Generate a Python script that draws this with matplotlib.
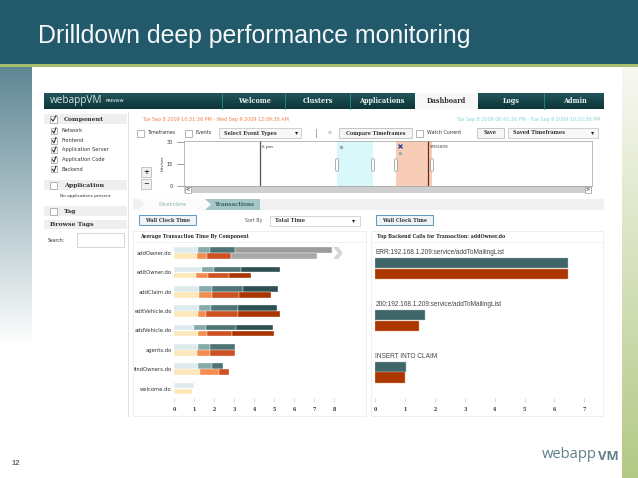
import numpy as np
import matplotlib
matplotlib.use("Agg")
import matplotlib.pyplot as plt
from matplotlib.colors import LinearSegmentedColormap
from matplotlib.patches import Rectangle, Polygon

# ---- data ----
transactions = ["addOwner.do", "editOwner.do", "addClaim.do", "editVehicle.do",
                "addVehicle.do", "agents.do", "findOwners.do", "welcome.do"]
wall_network = [1.20, 1.37, 1.23, 1.23, 1.00, 1.20, 1.20, 1.00]
wall_frontend = [0.58, 0.61, 0.65, 0.60, 0.60, 0.58, 0.67, 0.0]
wall_server = [1.27, 1.34, 1.54, 1.34, 1.50, 1.27, 0.56, 0.0]
wall_code = [4.85, 1.96, 1.78, 1.98, 1.82, 0.0, 0.0, 0.0]
cpu_network = [1.15, 1.08, 1.25, 1.20, 1.17, 1.15, 1.28, 0.90]
cpu_frontend = [0.50, 0.59, 0.63, 0.40, 0.45, 0.62, 0.94, 0.0]
cpu_server = [1.17, 1.08, 1.37, 1.57, 1.28, 1.28, 0.53, 0.0]
cpu_code = [4.33, 1.07, 1.57, 2.10, 2.08, 0.0, 0.0, 0.0]
left_ticks = [0, 1, 2, 3, 4, 5, 6, 7, 8]

backend_calls = ["ERR:192.168.1.209:service/addToMailingList",
                 "200:192.168.1.209:service/addToMailingList",
                 "INSERT INTO CLAIM"]
backend_wall = [6.44, 1.67, 1.02]
backend_cpu = [6.44, 1.46, 0.98]
right_ticks = [0, 1, 2, 3, 4, 5, 6, 7]

timeline_ticks = [0, 15, 30]
timeline_marks = [18.0, 24.0]
timeline_mark_labels = ["6 pm", "9/9/2009"]
timeframe_a = [20.75, 22.04]
timeframe_b = [22.87, 24.16]

tabs = ["Welcome", "Clusters", "Applications", "Dashboard", "Logs", "Admin"]
components = ["Network", "Frontend", "Application Server", "Application Code", "Backend"]

W, H = 638, 478
fig = plt.figure(figsize=(W / 100, H / 100), dpi=100, facecolor="white")
SANS = "DejaVu Sans"
SERIF = "DejaVu Serif"
ARIAL = "Liberation Sans"

ov = fig.add_axes([0, 0, 1, 1], zorder=0)
ov.set_axis_off()


def vgrad(x0, x1, y0, y1, c0, c1, z=1):
    cm = LinearSegmentedColormap.from_list("g", [c0, c1])
    ov.imshow(np.linspace(0, 1, 256)[:, None], extent=(x0, x1, y1, y0), cmap=cm,
              aspect="auto", zorder=z, interpolation="bilinear")


def rect(x0, y0, x1, y1, fc="white", ec="none", lw=0.6, z=2):
    ov.add_patch(Rectangle((x0, y0), x1 - x0, y1 - y0, fc=fc, ec=ec, lw=lw, zorder=z))


def txt(x, y, s, size=4, color="#333333", family=SANS, weight="normal", ha="left", rot=0, z=5):
    ov.text(x, y, s, fontsize=size, color=color, family=family, weight=weight,
            ha=ha, va="center", rotation=rot, zorder=z)


def checkbox(x, y, s=7, checked=False):
    rect(x, y - s / 2, x + s, y + s / 2, fc="white", ec="#a8a8a8", lw=0.6, z=4)
    if checked:
        ov.plot([x + 1.5, x + 3, x + s - 1], [y, y + 2.2, y - 3.2], color="#333333", lw=0.8, zorder=5)


def button(x0, y0, x1, y1, label, size=3.5, ec="#c4c4c4", fc="#f6f6f6"):
    rect(x0, y0, x1, y1, fc=fc, ec=ec, lw=0.7, z=3)
    txt((x0 + x1) / 2, (y0 + y1) / 2, label, size=size, family=SERIF, weight="bold", ha="center", color="#333333")


# ---- slide frame ----
rect(0, 0, W, 63.5, fc="#235a6b", z=1)
vgrad(0, 32, 67, 345, "#5f8794", "#ffffff")
vgrad(622, W, 67, H, "#f8f8f2", "#b3c986")
rect(0, 63.5, W, 67, fc="#a5bf70", z=3)
txt(38.5, 35.5, "Drilldown deep performance monitoring", size=17.9, color="#f4f8f8", family=ARIAL)
txt(12, 463.5, "12", size=5.6, color="#5e7078", family=ARIAL, weight="bold")
txt(597, 455, "webapp", size=10.6, color="#5f7f88", family="Open Sans", ha="right")
txt(598, 456, "VM", size=9.4, color="#5f7f88", family="Open Sans", weight="bold", ha="left")

# ---- application header ----
vgrad(44, 604, 93, 109, "#22565c", "#0c3436", z=2)
rect(415, 93, 478, 109, fc="#f8f8f8", z=3)
tab_centers = [255, 318, 382, 446, 511, 575]
for name, cx in zip(tabs, tab_centers):
    col = "#333333" if name == "Dashboard" else "#e8f0f0"
    txt(cx, 101, name, size=4.7, color=col, family=SERIF, weight="bold", ha="center")
for sx in [222, 285, 350, 544]:
    ov.plot([sx, sx], [93, 109], color="#2a8a8a", lw=0.6, zorder=4)
txt(49.5, 100, "webappVM", size=7.2, color="#d4e2e2", family="Open Sans")
txt(105.5, 101, "PREVIEW", size=2.6, color="#b8cccc", weight="bold")

# ---- sidebar ----
for y0, y1 in [(114, 124), (180, 190), (206, 216), (220, 229)]:
    rect(44, y0, 127, y1, fc="#efefef")
ov.plot([128, 128], [112, 416], color="#e2e2e2", lw=0.7, zorder=3)
checkbox(50, 119, s=7, checked=True)
txt(64, 119, "Component", size=4.5, color="#333333", family=SERIF, weight="bold")
for name, y in zip(components, [131, 140.7, 150, 159.7, 169.3]):
    checkbox(51, y, s=6, checked=True)
    txt(61.5, y, name, size=3.6, color="#333333")
checkbox(50, 185, s=7)
txt(64, 185, "Application", size=4.5, color="#333333", family=SERIF, weight="bold")
txt(85, 196, "No applications present", size=3.1, ha="center")
checkbox(50, 211, s=7)
txt(64, 211, "Tag", size=4.5, color="#333333", family=SERIF, weight="bold")
txt(50.5, 224.5, "Browse Tags", size=4.5, color="#333333", family=SERIF, weight="bold")
txt(48, 240, "Search:", size=3.3)
rect(77, 233, 124, 247, fc="white", ec="#cfcfcf", lw=0.6)

# ---- date range lines and controls ----
txt(142, 119, "Tue Sep 8 2009 10:31:36 PM - Wed Sep 9 2009 12:09:36 AM", size=3.55, color="#f0814e")
txt(600, 119, "Tue Sep 8 2009 06:45:36 PM - Tue Sep 8 2009 10:03:36 PM", size=3.55, color="#86d6d6", ha="right")
checkbox(137, 133)
txt(148, 133, "Timeframes", size=3.4)
checkbox(185, 133)
txt(196, 133, "Events", size=3.4)
rect(219, 128, 301, 138, fc="#f8f8f8", ec="#c8c8c8")
txt(224, 133, "Select Event Types", size=3.6, family=SERIF, weight="bold")
txt(297, 133, "\u25be", size=4.5, ha="center", color="#222222")
ov.plot([316, 316], [129, 137], color="#999999", lw=0.6, zorder=3)
txt(330, 133, "\u26ad", size=5, ha="center", color="#b8b8b8")
button(339, 128, 412, 138, "Compare Timeframes")
checkbox(416, 133)
txt(427, 132.5, "Watch Current", size=3.4)
button(477, 128, 504, 138, "Save")
rect(508, 128, 598, 138, fc="#f8f8f8", ec="#c8c8c8")
txt(513, 133, "Saved Timeframes", size=3.6, family=SERIF, weight="bold")
txt(593, 133, "\u25be", size=4.5, ha="center", color="#222222")

# zoom buttons and scrollbar
for y, s in [(172, "+"), (184, "\u2212")]:
    rect(141, y - 5, 151, y + 5, fc="#f0f0f0", ec="#b0b0b0", lw=0.5)
    txt(146, y, s, size=5, ha="center", weight="bold", color="#223344")
rect(184, 186, 592, 192.5, fc="#cfcfcf")
rect(185, 186.5, 191, 192.5, fc="white", ec="#888888", lw=0.4, z=3)
rect(585, 186.5, 591, 192.5, fc="white", ec="#888888", lw=0.4, z=3)
txt(188, 189.5, "<", size=3.6, ha="center", weight="bold")
txt(588, 189.5, ">", size=3.6, ha="center", weight="bold")

# ---- sub tabs ----
rect(133, 199, 604, 210, fc="#f1f1f1")
ov.add_patch(Polygon([(139, 199), (205, 199), (211, 204.5), (205, 210), (139, 210), (144, 204.5)],
                     fc="#fbfbfb", ec="none", zorder=3))
ov.add_patch(Polygon([(205, 199), (260, 199), (260, 210), (205, 210), (211, 204.5)],
                     fc="#a3c6c6", ec="none", zorder=3))
txt(173, 204.5, "Overview", size=4, family=SERIF, color="#afc6c6", ha="center", weight="bold")
txt(235, 204.5, "Transactions", size=4, family=SERIF, color="#3e5f60", ha="center", weight="bold")

# ---- buttons above the charts ----
button(139, 215, 196, 225, "Wall Clock Time", ec="#5a9ac0", fc="#eef3f6")
txt(254, 220.5, "Sort By", size=3.4, ha="center", color="#555555")
rect(270, 216, 360, 226, fc="white", ec="#cfcfcf")
txt(275, 221, "Total Time", size=3.6, family=SERIF, weight="bold")
txt(354, 221, "\u25be", size=4.5, ha="center", color="#222222")
button(376, 215, 433, 225, "Wall Clock Time", ec="#5a9ac0", fc="#eef3f6")

# ---- chart panels ----
rect(133, 231, 366, 416, fc="white", ec="#efefef", lw=0.7)
rect(371, 231, 603, 416, fc="white", ec="#efefef", lw=0.7)
ov.plot([133, 366], [242, 242], color="#f0f0f0", lw=0.6, zorder=3)
ov.plot([371, 603], [242, 242], color="#f0f0f0", lw=0.6, zorder=3)
txt(140, 236.7, "Average Transaction Time By Component", size=3.35, family=SERIF, weight="bold", color="#222222")
txt(377, 236.7, "Top Backend Calls for Transaction: addOwner.do", size=3.35, family=SERIF, weight="bold", color="#222222")
ov.add_patch(Polygon([(333, 247), (338, 247), (343, 253), (338, 259), (333, 259), (338, 253)],
                     fc="#d6d6d6", ec="none", zorder=6))

ov.set_xlim(0, W)
ov.set_ylim(H, 0)


def px_axes(x0, y0, x1, y1, z=2):
    a = fig.add_axes([x0 / W, 1 - y1 / H, (x1 - x0) / W, (y1 - y0) / H], zorder=z)
    a.patch.set_alpha(0)
    return a


# ---- timeline ----
tl = px_axes(184.3, 141, 592.3, 186)
tl.patch.set_alpha(1)
tl.set_xlim(15.28, 29.89)
tl.set_ylim(0, 30.7)
tl.axvspan(*timeframe_a, color="#d9f8f9", lw=0)
tl.axvspan(*timeframe_b, color="#f7cdb8", lw=0)
tl.axvline(timeline_marks[0], color="#555555", lw=0.9)
tl.axvline(timeline_marks[1], color="#6b2a18", lw=0.9)
for m, lab in zip(timeline_marks, timeline_mark_labels):
    tl.text(m + 0.08, 26.5, lab, fontsize=3.1, va="center", color="#333333", family=SANS)
for e in list(timeframe_a) + list(timeframe_b):
    tl.plot([e, e], [11, 18], color="#9a9a9a", lw=2.6, solid_capstyle="round")
    tl.plot([e, e], [11, 18], color="#ffffff", lw=1.5, solid_capstyle="round")
tl.plot([timeframe_b[0] + 0.13], [27.5], marker="x", ms=3, color="#3a4aa0", mew=1)
tl.plot([timeframe_a[0] + 0.15, timeframe_b[0] + 0.15], [26.5, 22.5], ls="none", marker="s", ms=1.6, color="#aaaaaa")
tl.set_xticks([])
tl.set_yticks(timeline_ticks)
tl.set_yticklabels(["0", "15", "30"], fontsize=3.6, color="#333333")
tl.tick_params(axis="y", length=5, width=0.5, color="#777777", pad=3)
for sp in tl.spines.values():
    sp.set_color("#a0a0a0")
    sp.set_linewidth(0.5)
tl.set_ylabel("hits/sec", fontsize=3, color="#333333", labelpad=1.5)

# ---- left stacked bars ----
ax = px_axes(174.3, 243.3, 334.3, 398.3)
rows = np.arange(len(transactions))
top_cols = ["#deebed", "#86a9a9", "#4f7476", "#2f5052"]
bot_cols = ["#fde8bb", "#f38c50", "#cc5222", "#a93400"]
for i in rows:
    left = 0.0
    for k, s in enumerate([wall_network, wall_frontend, wall_server, wall_code]):
        c = "#9b9b9b" if (i == 0 and k == 3) else top_cols[k]
        if s[i] > 0:
            ax.barh(i - 0.155, s[i], left=left, height=0.295, color=c, edgecolor="#ffffff", linewidth=0.25)
        left += s[i]
    left = 0.0
    for k, s in enumerate([cpu_network, cpu_frontend, cpu_server, cpu_code]):
        c = "#a8a8a8" if (i == 0 and k == 3) else bot_cols[k]
        if s[i] > 0:
            ax.barh(i + 0.155, s[i], left=left, height=0.295, color=c, edgecolor="#ffffff", linewidth=0.25)
        left += s[i]
ax.set_xlim(0, 8)
ax.set_ylim(len(transactions) - 0.5, -0.5)
ax.set_yticks(rows)
ax.set_yticklabels(transactions, fontsize=3.8, color="#333333")
ax.set_xticks(left_ticks)
ax.set_xticklabels([str(t) for t in left_ticks], fontsize=3.4, color="#333333", family=SERIF, weight="bold")
ax.tick_params(axis="y", length=0, pad=1.8)
ax.tick_params(axis="x", length=3, width=0.5, color="#cccccc", pad=3.2)
for sp in ax.spines.values():
    sp.set_visible(False)

# ---- right grouped bars ----
ar = px_axes(375.3, 242.8, 584.3, 398)
pos = np.arange(len(backend_calls))
ar.barh(pos - 0.105, backend_wall, height=0.2, color="#3f6668", edgecolor="#a9bcbc", linewidth=0.3)
ar.barh(pos + 0.105, backend_cpu, height=0.2, color="#ab3600", edgecolor="#e8a080", linewidth=0.3)
for p, lab in zip(pos, backend_calls):
    ar.text(0, p - 0.305, lab, fontsize=4.7, family=ARIAL, color="#444444", va="center", ha="left")
ar.set_xlim(0, 7)
ar.set_ylim(len(backend_calls) - 0.5, -0.5)
ar.set_yticks([])
ar.set_xticks(right_ticks)
ar.set_xticklabels([str(t) for t in right_ticks], fontsize=3.4, color="#333333", family=SERIF, weight="bold")
ar.tick_params(axis="x", length=3, width=0.5, color="#cccccc", pad=3.2)
for sp in ar.spines.values():
    sp.set_visible(False)

fig.savefig("out.png", dpi=100)
